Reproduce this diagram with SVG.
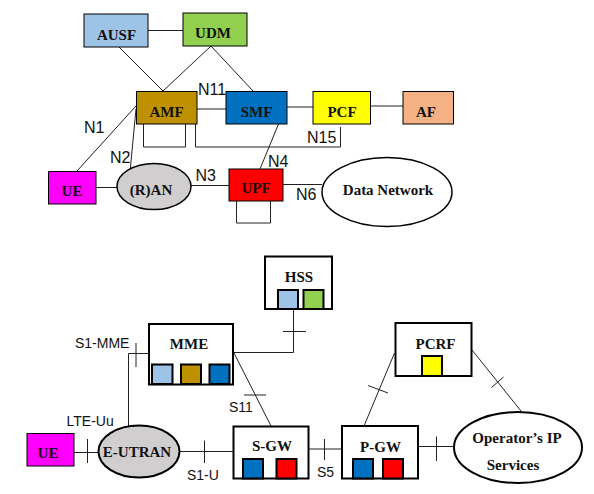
<svg xmlns="http://www.w3.org/2000/svg" width="594" height="494" viewBox="0 0 594 494">
<style>
.bx{stroke:#000;stroke-width:1}
.bb{fill:#fff;stroke:#000;stroke-width:2}
.sq{stroke:#000;stroke-width:2}
.nt{font-family:"Liberation Serif",serif;font-weight:bold;font-size:15px;text-anchor:middle;fill:#111}
.lb{font-family:"Liberation Sans",Arial,sans-serif;font-size:16px;fill:#111}
.ls{font-family:"Liberation Sans",Arial,sans-serif;font-size:14px;fill:#111}
.cn path,.cn line{stroke:#222;stroke-width:1;fill:none}
</style>
<rect width="594" height="494" fill="#fff"/>
<g class="cn" id="connectors">
<line x1="148" y1="30.5" x2="183" y2="30.5"/>
<line x1="119" y1="47" x2="163" y2="91"/>
<line x1="211" y1="46" x2="163" y2="91"/>
<line x1="211" y1="46" x2="253" y2="91"/>
<line x1="197" y1="109" x2="226" y2="109"/>
<line x1="287" y1="107" x2="313" y2="107"/>
<line x1="371" y1="106" x2="403" y2="106"/>
<path d="M195.5,124 V147 H340.5 V127"/>
<path d="M143.5,124 V147 H185.5 V124"/>
<line x1="77" y1="171" x2="136" y2="106"/>
<line x1="130" y1="172" x2="136" y2="109"/>
<line x1="96" y1="187.5" x2="117" y2="187.5"/>
<line x1="191" y1="185.5" x2="229" y2="185.5"/>
<line x1="278.5" y1="124" x2="260" y2="169"/>
<path d="M236.5,201 V223 H270.5 V201"/>
<line x1="283" y1="184.5" x2="322" y2="184.5"/>
<path d="M293.5,310 V352.5 H233"/>
<line x1="283" y1="331.5" x2="306" y2="331.5"/>
<path d="M149,353.5 H128.5 V426"/>
<line x1="136" y1="343" x2="136" y2="367"/>
<line x1="74" y1="452.5" x2="98" y2="452.5"/>
<line x1="87.5" y1="439" x2="87.5" y2="463"/>
<line x1="179" y1="451.5" x2="233" y2="451.5"/>
<line x1="204.5" y1="440.5" x2="204.5" y2="463"/>
<line x1="234" y1="353" x2="271" y2="426"/>
<line x1="244" y1="395" x2="266" y2="395"/>
<line x1="309" y1="449" x2="342" y2="449"/>
<line x1="324.5" y1="439" x2="324.5" y2="460"/>
<line x1="418" y1="446.5" x2="454" y2="446.5"/>
<line x1="436.5" y1="436.5" x2="436.5" y2="461"/>
<line x1="394.5" y1="353" x2="364" y2="426"/>
<line x1="368" y1="385.5" x2="388" y2="393"/>
<line x1="472" y1="350" x2="521" y2="411"/>
<line x1="491.5" y1="387.5" x2="503.5" y2="377"/>
</g>
<g id="labels">
<text class="lb" x="198" y="95">N11</text>
<text class="lb" x="84" y="133">N1</text>
<text class="lb" x="110" y="162.5">N2</text>
<text class="lb" x="195.5" y="181">N3</text>
<text class="lb" x="268" y="167">N4</text>
<text class="lb" x="307" y="143">N15</text>
<text class="lb" x="296" y="200">N6</text>
<text class="ls" x="75" y="348">S1-MME</text>
<text class="ls" x="66.5" y="426">LTE-Uu</text>
<text class="ls" x="229" y="412">S11</text>
<text class="ls" x="187" y="480">S1-U</text>
<text class="ls" x="317" y="477">S5</text>
</g>
<g id="AUSF"><rect class="bx" x="84" y="14" width="64" height="33" fill="#9DC3E6"/><text class="nt" x="116.5" y="40">AUSF</text></g>
<g id="UDM"><rect class="bx" x="183" y="13" width="64" height="33" fill="#92D050"/><text class="nt" x="213" y="38">UDM</text></g>
<g id="AMF"><rect class="bx" x="136.5" y="91.5" width="60.5" height="32.5" fill="#BF9000"/><text class="nt" x="166.5" y="117">AMF</text></g>
<g id="SMF"><rect class="bx" x="226" y="91.5" width="61" height="32.5" fill="#0070C0"/><text class="nt" x="256.5" y="117">SMF</text></g>
<g id="PCF"><rect class="bx" x="313" y="91.5" width="57.5" height="32.5" fill="#FFFF00"/><text class="nt" x="342" y="117">PCF</text></g>
<g id="AF"><rect class="bx" x="403" y="91.5" width="50.5" height="32.5" fill="#F4B183"/><text class="nt" x="426" y="117">AF</text></g>
<g id="UE5G"><rect class="bx" x="48.5" y="171.5" width="47.5" height="32.5" fill="#FF00FF"/><text class="nt" x="72" y="196">UE</text></g>
<g id="RAN"><ellipse cx="154" cy="186.5" rx="37" ry="23" fill="#D0CECE" stroke="#000" stroke-width="1.5"/><text class="nt" x="151" y="195">(R)AN</text></g>
<g id="UPF"><rect class="bx" x="229" y="169" width="54" height="32" fill="#FF0000"/><text class="nt" x="256" y="193">UPF</text></g>
<g id="DN"><ellipse cx="387" cy="192" rx="65" ry="34.5" fill="#fff" stroke="#000" stroke-width="1.5"/><text class="nt" x="388" y="195">Data Network</text></g>
<g id="HSS"><rect class="bb" x="265" y="256.5" width="67" height="52.5"/><text class="nt" x="299" y="282">HSS</text><rect class="sq" x="278" y="290" width="20" height="19" fill="#9DC3E6"/><rect class="sq" x="303.5" y="290" width="20" height="19" fill="#92D050"/></g>
<g id="MME"><rect class="bb" x="149" y="324" width="84" height="60.5"/><text class="nt" x="189" y="349">MME</text><rect class="sq" x="152" y="364.5" width="20.5" height="19.5" fill="#9DC3E6"/><rect class="sq" x="181" y="364.5" width="20" height="19.5" fill="#BF9000"/><rect class="sq" x="209.5" y="364.5" width="20" height="19.5" fill="#0070C0"/></g>
<g id="PCRF"><rect class="bb" x="395.5" y="323" width="76" height="53"/><text class="nt" x="435.5" y="349">PCRF</text><rect class="sq" x="422" y="356" width="20" height="20" fill="#FFFF00"/></g>
<g id="UE"><rect class="bx" x="27" y="433.5" width="47" height="32.5" fill="#FF00FF"/><text class="nt" x="48" y="458">UE</text></g>
<g id="EUTRAN"><ellipse cx="139" cy="451.5" rx="40.5" ry="26" fill="#D0CECE" stroke="#000" stroke-width="2"/><text class="nt" x="137" y="457">E-UTRAN</text></g>
<g id="SGW"><rect class="bb" x="233.5" y="426.5" width="75" height="52"/><text class="nt" x="272" y="451">S-GW</text><rect class="sq" x="243" y="459" width="20" height="19.5" fill="#0070C0"/><rect class="sq" x="276.5" y="459" width="20" height="19.5" fill="#FF0000"/></g>
<g id="PGW"><rect class="bb" x="342" y="426" width="76" height="52.5"/><text class="nt" x="380.5" y="452">P-GW</text><rect class="sq" x="353" y="459" width="20" height="19.5" fill="#0070C0"/><rect class="sq" x="383" y="459" width="20" height="19.5" fill="#FF0000"/></g>
<g id="OpIP"><ellipse cx="518" cy="447.5" rx="64" ry="35.5" fill="#fff" stroke="#000" stroke-width="2"/><text class="nt" x="517" y="443">Operator’s IP</text><text class="nt" x="513" y="470">Services</text></g>
</svg>
